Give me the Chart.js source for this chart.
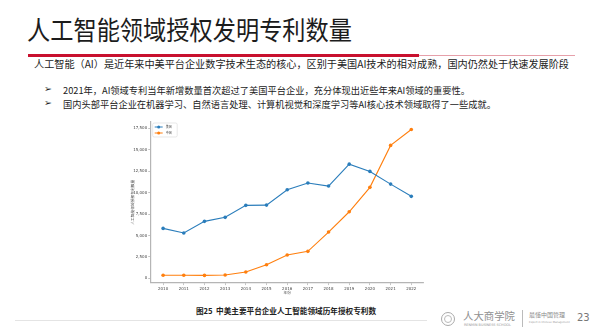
<!DOCTYPE html>
<html>
<head>
<meta charset="utf-8">
<script src="https://cdn.jsdelivr.net/npm/chart.js@4.4.1/dist/chart.umd.min.js"></script>
<style>
    html, body { margin: 0; padding: 0; background: #fff; }
    #page { position: relative; width: 600px; height: 334px; overflow: hidden; font-family: "Noto Sans CJK SC", "Noto Sans", sans-serif; color: #222; }
    .abs { position: absolute; white-space: nowrap; transform-origin: 0 50%; }
    #title { left: 27px; top: 13px; font-size: 26px; line-height: 32px; color: #1c1c1c; }
    #redThick { left: 28px; top: 54px; width: 391px; height: 3px; background: #c8102e; }
    #redThin { left: 419px; top: 55px; width: 156px; height: 1px; background: #e6a0aa; }
    #lead { left: 34px; top: 56px; font-size: 10.1px; line-height: 15px; }
    .bullet { left: 44px; font-size: 9.5px; line-height: 12px; font-family: "DejaVu Sans", sans-serif; }
    .item { left: 63px; font-size: 9.4px; line-height: 14px; }
    #chartBox { left: 110px; top: 115px; width: 330px; height: 190px; }
    #caption { left: 196px; top: 305px; font-size: 7.6px; line-height: 12px; font-weight: bold; color: #222; }
    #capLine { left: 15px; top: 320px; width: 412px; height: 1px; background: #e4e4e4; }
    #logo { left: 441px; top: 312px; width: 12px; height: 12px; border: 1px solid #aaa; border-radius: 50%; }
    #logoIn { left: 444px; top: 315px; width: 6px; height: 6px; border: 1px solid #bbb; border-radius: 50%; }
    #school { left: 463px; top: 309px; font-size: 10.4px; line-height: 14px; color: #909090; }
    #schoolEn { left: 464px; top: 323px; font-size: 3.4px; line-height: 4px; color: #999; font-family: "DejaVu Sans", sans-serif; }
    #divider { left: 522px; top: 310px; width: 1px; height: 17px; background: #bbb; }
    #motto { left: 529px; top: 311px; font-size: 6px; line-height: 8px; color: #8a8a8a; }
    #mottoEn { left: 529px; top: 321px; font-size: 2.6px; line-height: 3px; color: #999; font-family: "DejaVu Sans", sans-serif; }
    #pageNo { left: 577px; top: 311px; font-size: 10px; line-height: 14px; color: #777; font-family: "DejaVu Sans", sans-serif; }
</style>
</head>
<body>
<div id="page">
    <div class="abs fit" id="title" data-w="325">人工智能领域授权发明专利数量</div>
    <div class="abs" id="redThick"></div>
    <div class="abs" id="redThin"></div>
    <div class="abs fit" id="lead" data-w="535">人工智能（AI）是近年来中美平台企业数字技术生态的核心，区别于美国AI技术的相对成熟，国内仍然处于快速发展阶段</div>
    <div class="abs bullet" style="top:83px">➢</div>
    <div class="abs item fit" style="top:83px" data-w="407">2021年，AI领域专利当年新增数量首次超过了美国平台企业，充分体现出近些年来AI领域的重要性。</div>
    <div class="abs bullet" style="top:97px">➢</div>
    <div class="abs item fit" style="top:97px" data-w="433">国内头部平台企业在机器学习、自然语言处理、计算机视觉和深度学习等AI核心技术领域取得了一些成就。</div>
    <div class="abs" id="chartBox"><canvas id="patentChart" width="330" height="190"></canvas></div>
    <div class="abs fit" id="caption" data-w="180">图25&nbsp; 中美主要平台企业人工智能领域历年授权专利数</div>
    <div class="abs" id="capLine"></div>
    <div class="abs" id="logo"></div>
    <div class="abs" id="logoIn"></div>
    <div class="abs" id="school">人大商学院</div>
    <div class="abs" id="schoolEn">RENMIN BUSINESS SCHOOL</div>
    <div class="abs" id="divider"></div>
    <div class="abs" id="motto">最懂中国管理</div>
    <div class="abs" id="mottoEn">Expert in Chinese Management</div>
    <div class="abs" id="pageNo">23</div>
</div>
<script>
    // 연도별 授权专利数
    const years = [2010, 2011, 2012, 2013, 2014, 2015, 2016, 2017, 2018, 2019, 2020, 2021, 2022];
    const usValues = [5830, 5290, 6650, 7120, 8520, 8550, 10340, 11120, 10770, 13330, 12480, 11000, 9570];
    const cnValues = [350, 350, 340, 380, 740, 1590, 2720, 3150, 5400, 7770, 10620, 15520, 17380];
    const seriesLabels = ["美国", "中国"];
    const seriesColors = ["#2a7dbb", "#ff7f0e"];
    const yTicks = [0, 2500, 5000, 7500, 10000, 12500, 15000, 17500];
    const yAxisTitle = "人工智能领域授权专利数量";
    const xAxisTitle = "年份";

    // 텍스트 줄 폭을 원본에 맞춘다 (가로만 살짝 늘이거나 줄임)
    document.querySelectorAll(".fit").forEach((el) => {
        const w = el.getBoundingClientRect().width;
        const target = Number(el.dataset.w);
        if (w > 0 && target) el.style.transform = `scaleX(${target / w})`;
    });

    const toPoints = (vals) => years.map((yr, i) => ({ x: yr, y: vals[i] }));

    /** 차트 영역 왼쪽 위에 테두리 있는 범례를 그린다. */
    const boxLegendPlugin = {
        id: "boxLegendPlugin",
        afterDraw(chart) {
            const { ctx, chartArea } = chart;
            const bx = chartArea.left + 2;
            const by = chartArea.top + 1;
            ctx.save();
            ctx.strokeStyle = "#d8d8d8";
            ctx.lineWidth = 0.6;
            ctx.fillStyle = "rgba(255,255,255,0.9)";
            ctx.beginPath();
            ctx.roundRect(bx, by, 24.5, 14, 1.5);
            ctx.fill();
            ctx.stroke();
            chart.data.datasets.forEach((ds, i) => {
                const cy = by + 4 + i * 6;
                ctx.strokeStyle = ds.borderColor;
                ctx.lineWidth = 1;
                ctx.beginPath();
                ctx.moveTo(bx + 2, cy);
                ctx.lineTo(bx + 10, cy);
                ctx.stroke();
                ctx.fillStyle = ds.backgroundColor;
                ctx.beginPath();
                ctx.arc(bx + 6, cy, 1.5, 0, Math.PI * 2);
                ctx.fill();
                ctx.fillStyle = "#333";
                ctx.font = '3px "Noto Sans CJK SC"';
                ctx.textBaseline = "middle";
                ctx.fillText(ds.label, bx + 13, cy);
            });
            ctx.restore();
        }
    };

    const tickFont = { family: "DejaVu Sans", size: 4 };
    const axisGrid = { display: true, drawOnChartArea: false, drawTicks: true, tickLength: 2.5, color: "#b5b5b5", lineWidth: 0.8 };
    const axisBorder = { display: true, color: "#b5b5b5", width: 1.2 };

    new Chart(document.getElementById("patentChart").getContext("2d"), {
        type: "line",
        data: {
            datasets: [
                { label: seriesLabels[0], data: toPoints(usValues) },
                { label: seriesLabels[1], data: toPoints(cnValues) }
            ].map((ds, i) => Object.assign(ds, {
                borderColor: seriesColors[i],
                backgroundColor: seriesColors[i],
                borderWidth: 1.1,
                pointRadius: 1.8,
                pointBorderWidth: 0,
                tension: 0,
                fill: false
            }))
        },
        options: {
            responsive: false,
            animation: false,
            events: [],
            layout: { padding: { left: 0, top: 7, right: 16.3, bottom: 0 } },
            plugins: { legend: { display: false }, tooltip: { enabled: false } },
            scales: {
                x: {
                    type: "linear",
                    min: 2009.4,
                    max: 2022.6,
                    afterBuildTicks: (scale) => { scale.ticks = years.map((v) => ({ value: v })); },
                    afterFit: (scale) => { scale.height = 22.4; },
                    ticks: { font: tickFont, color: "#444", padding: 1, maxRotation: 0, callback: (v) => String(v) },
                    grid: axisGrid,
                    border: axisBorder,
                    title: { display: true, text: xAxisTitle, font: { family: "Noto Sans CJK SC", size: 3.6 }, color: "#444", padding: { top: 0, bottom: 10.2 } }
                },
                y: {
                    type: "linear",
                    min: -500,
                    max: 18250,
                    afterBuildTicks: (scale) => { scale.ticks = yTicks.map((v) => ({ value: v })); },
                    afterFit: (scale) => { scale.width = 40.7; },
                    ticks: { font: tickFont, color: "#444", padding: 1, callback: (v) => Number(v).toLocaleString("en-US") },
                    grid: axisGrid,
                    border: axisBorder,
                    title: { display: true, text: yAxisTitle, font: { family: "Noto Sans CJK SC", size: 3.75 }, color: "#444", padding: { top: 20, bottom: 0 } }
                }
            }
        },
        plugins: [boxLegendPlugin]
    });
</script>
</body>
</html>
